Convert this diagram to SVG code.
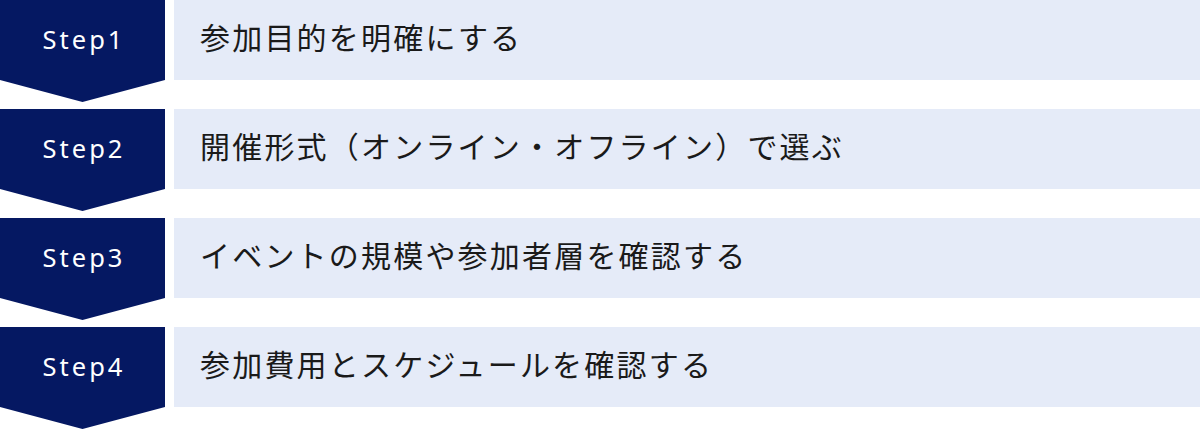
<svg xmlns="http://www.w3.org/2000/svg" width="1200" height="429" viewBox="0 0 1200 429">
<style>
.step{fill:#051862}
.bar{fill:#e5ebf8}
.lbl{font-family:"Noto Sans","Noto Sans CJK JP",sans-serif;font-size:25.5px;fill:#ffffff;letter-spacing:3px;text-anchor:middle}
.txt{font-family:"Noto Sans CJK JP","Noto Sans",sans-serif;font-size:30px;fill:#1a1a1a;letter-spacing:2.2px}
</style>
<defs>
<path id="chev" d="M0,0 H165 V80 L82.5,102 L0,80 Z"/>
</defs>
<g id="step1">
<use href="#chev" class="step" x="0" y="0"/>
<rect class="bar" x="174" y="0" width="1026" height="80"/>
<text class="lbl" x="84" y="48.5">Step1</text>
<text class="txt" x="200" y="49">参加目的を明確にする</text>
</g>
<g id="step2">
<use href="#chev" class="step" x="0" y="109"/>
<rect class="bar" x="174" y="109" width="1026" height="80"/>
<text class="lbl" x="84" y="157.5">Step2</text>
<text class="txt" x="200" y="158">開催形式（オンライン・オフライン）で選ぶ</text>
</g>
<g id="step3">
<use href="#chev" class="step" x="0" y="218"/>
<rect class="bar" x="174" y="218" width="1026" height="80"/>
<text class="lbl" x="84" y="266.5">Step3</text>
<text class="txt" x="200" y="267">イベントの規模や参加者層を確認する</text>
</g>
<g id="step4">
<use href="#chev" class="step" x="0" y="327"/>
<rect class="bar" x="174" y="327" width="1026" height="80"/>
<text class="lbl" x="84" y="375.5">Step4</text>
<text class="txt" x="200" y="376">参加費用とスケジュールを確認する</text>
</g>
<g id="connectors"></g>
</svg>
